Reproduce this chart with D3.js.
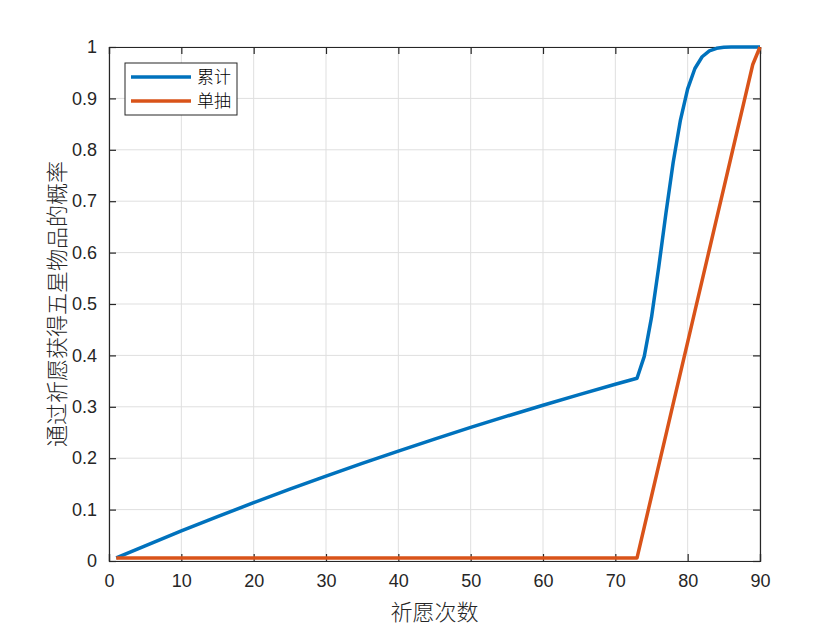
<!DOCTYPE html>
<html>
<head>
<meta charset="utf-8">
<script src="https://cdn.jsdelivr.net/npm/d3@7"></script>
<style>
  body { margin: 0; background: #fff; }
  svg { display: block; }
</style>
</head>
<body>
<script>
// pulls and probabilities
const cumPulls = [1, 5, 10, 15, 20, 25, 30, 35, 40, 45, 50, 55, 60, 65, 70, 73,
  74, 75, 76, 77, 78, 79, 80, 81, 82, 83, 84, 85, 86, 87, 88, 89, 90];
const cumProb = [0.006, 0.0296, 0.0584, 0.0863, 0.1134, 0.1397, 0.1652, 0.1899, 0.2139,
  0.2372, 0.2599, 0.2818, 0.3031, 0.3237, 0.3438, 0.3555,
  0.3981, 0.4739, 0.5718, 0.6771, 0.7759, 0.8579, 0.9185, 0.9581, 0.9810,
  0.9925, 0.9975, 0.9993, 0.9999, 1.0, 1.0, 1.0, 1.0];

const singlePulls = [1, 73, 74, 75, 76, 77, 78, 79, 80, 81, 82, 83, 84, 85, 86, 87, 88, 89, 90];
const singleProb = [0.006, 0.006, 0.066, 0.126, 0.186, 0.246, 0.306, 0.366, 0.426, 0.486,
  0.546, 0.606, 0.666, 0.726, 0.786, 0.846, 0.906, 0.966, 1.0];

const xTicks = [0, 10, 20, 30, 40, 50, 60, 70, 80, 90];
const yTicks = [0, 0.1, 0.2, 0.3, 0.4, 0.5, 0.6, 0.7, 0.8, 0.9, 1];
const legendNames = ['累计', '单抽'];
const colors = ['#0072BD', '#D95319'];

const width = 840, height = 630;
const plotLeft = 109, plotRight = 760, plotTop = 47, plotBottom = 561;

const svg = d3.select('body').append('svg')
  .attr('width', width)
  .attr('height', height);

const x = d3.scaleLinear().domain([0, 90]).range([plotLeft, plotRight]);
const y = d3.scaleLinear().domain([0, 1]).range([plotBottom, plotTop]);

// grid
const grid = svg.append('g');
grid.selectAll('line.gx').data(xTicks).enter().append('line')
  .attr('x1', d => x(d)).attr('x2', d => x(d))
  .attr('y1', plotTop).attr('y2', plotBottom)
  .style('stroke', '#dfdfdf').style('stroke-width', 1);
grid.selectAll('line.gy').data(yTicks).enter().append('line')
  .attr('x1', plotLeft).attr('x2', plotRight)
  .attr('y1', d => y(d)).attr('y2', d => y(d))
  .style('stroke', '#dfdfdf').style('stroke-width', 1);

// axes with inward ticks, mirrored on top / right
const tickLen = 7;
const font = 'Arial, "Liberation Sans", Helvetica, sans-serif';
const axisBottom = svg.append('g').attr('transform', `translate(0,${plotBottom})`)
  .call(d3.axisBottom(x).tickValues(xTicks).tickSize(-tickLen).tickPadding(13).tickFormat(d3.format('d')));
const axisTop = svg.append('g').attr('transform', `translate(0,${plotTop})`)
  .call(d3.axisTop(x).tickValues(xTicks).tickSize(-tickLen).tickFormat(''));
const axisLeft = svg.append('g').attr('transform', `translate(${plotLeft},0)`)
  .call(d3.axisLeft(y).tickValues(yTicks).tickSize(-tickLen).tickPadding(12).tickFormat(d => d === 0 || d === 1 ? d : d3.format('.1f')(d)));
const axisRight = svg.append('g').attr('transform', `translate(${plotRight},0)`)
  .call(d3.axisRight(y).tickValues(yTicks).tickSize(-tickLen).tickFormat(''));

[axisBottom, axisTop, axisLeft, axisRight].forEach(a => {
  a.select('.domain').style('stroke', '#262626').style('stroke-width', 1.2);
  a.selectAll('.tick line').style('stroke', '#262626').style('stroke-width', 1.2);
  a.selectAll('text').style('font-family', font).style('font-size', '18px').style('fill', '#262626');
});

// lines
const line = d3.line().x(d => x(d[0])).y(d => y(d[1]));
const series = [
  d3.zip(cumPulls, cumProb),
  d3.zip(singlePulls, singleProb)
];
// draw order: cumulative first, then single on top
series.forEach((s, i) => {
  svg.append('path')
    .datum(s)
    .attr('d', line)
    .style('fill', 'none')
    .style('stroke', colors[i])
    .style('stroke-width', 3.5)
    .style('stroke-linejoin', 'round');
});

// axis labels
const cjk = '"Noto Sans CJK SC", "Noto Sans", sans-serif';
svg.append('text')
  .attr('x', (plotLeft + plotRight) / 2)
  .attr('y', 620)
  .attr('text-anchor', 'middle')
  .style('font-family', cjk)
  .style('font-size', '22px')
  .style('font-weight', 300)
  .style('fill', '#262626')
  .text('祈愿次数');
svg.append('text')
  .attr('transform', `translate(65,${(plotTop + plotBottom) / 2}) rotate(-90)`)
  .attr('text-anchor', 'middle')
  .style('font-family', cjk)
  .style('font-size', '22px')
  .style('font-weight', 300)
  .style('fill', '#262626')
  .text('通过祈愿获得五星物品的概率');

// legend
const legend = svg.append('g').attr('transform', 'translate(125,63)');
legend.append('rect')
  .attr('width', 112).attr('height', 52)
  .style('fill', '#fff').style('stroke', '#262626').style('stroke-width', 1);
legendNames.forEach((name, i) => {
  const ly = 14 + i * 24;
  legend.append('line')
    .attr('x1', 6).attr('x2', 66)
    .attr('y1', ly).attr('y2', ly)
    .style('stroke', colors[i]).style('stroke-width', 3.5);
  legend.append('text')
    .attr('x', 72).attr('y', ly + 6)
    .style('font-family', cjk)
    .style('font-size', '17px')
    .style('font-weight', 300)
    .style('fill', '#000')
    .text(name);
});
</script>
</body>
</html>
